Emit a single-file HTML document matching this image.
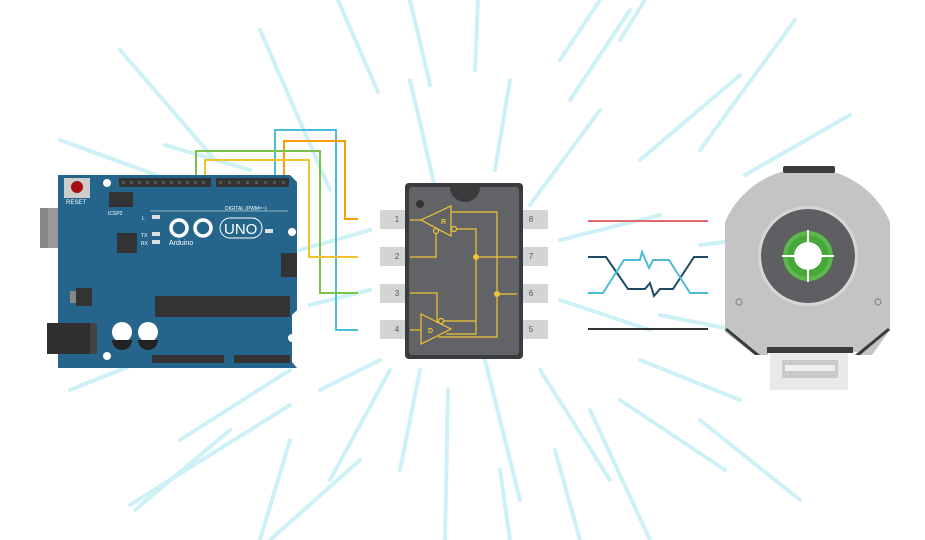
<!DOCTYPE html>
<html><head><meta charset="utf-8"><style>html,body{margin:0;padding:0;background:#fff}svg{display:block}</style></head>
<body>
<svg width="925" height="540" viewBox="0 0 925 540" xmlns="http://www.w3.org/2000/svg" font-family="Liberation Sans, sans-serif">
<g stroke="#cdf1f7" stroke-linecap="round" fill="none" stroke-width="4">
<path d="M338 0 L378 92"/>
<path d="M410 0 L430 85"/>
<path d="M478 0 L475 70"/>
<path d="M560 60 L600 0"/>
<path d="M620 40 L645 0"/>
<path d="M570 100 L630 10"/>
<path d="M700 150 L795 20"/>
<path d="M640 160 L740 75"/>
<path d="M745 175 L850 115"/>
<path d="M120 50 L215 160"/>
<path d="M260 30 L330 190"/>
<path d="M410 80 L438 200"/>
<path d="M510 80 L495 170"/>
<path d="M600 110 L530 205"/>
<path d="M60 140 L170 180"/>
<path d="M165 145 L250 170"/>
<path d="M560 240 L660 215"/>
<path d="M700 245 L740 240"/>
<path d="M560 300 L650 330"/>
<path d="M660 315 L735 330"/>
<path d="M300 250 L370 230"/>
<path d="M310 305 L370 290"/>
<path d="M70 390 L170 350"/>
<path d="M130 505 L290 405"/>
<path d="M180 440 L290 370"/>
<path d="M135 510 L230 430"/>
<path d="M270 540 L360 460"/>
<path d="M320 390 L380 360"/>
<path d="M330 480 L390 370"/>
<path d="M420 370 L400 470"/>
<path d="M448 390 L445 540"/>
<path d="M485 360 L520 500"/>
<path d="M500 470 L510 540"/>
<path d="M540 370 L610 480"/>
<path d="M555 450 L580 540"/>
<path d="M590 410 L650 540"/>
<path d="M620 400 L725 470"/>
<path d="M640 360 L740 400"/>
<path d="M700 420 L800 500"/>
<path d="M290 440 L260 540"/>
</g>
<g fill="none" stroke-width="2">
<path d="M275 178 V130 H336 V330 H358" stroke="#4dbcd6"/>
<path d="M284 178 V141 H345 V219 H358" stroke="#f5a000"/>
<path d="M196 178 V151 H320 V293 H358" stroke="#7cc24a"/>
<path d="M205 178 V160 H309 V257 H358" stroke="#f2c330"/>
</g>
<rect x="40" y="208" width="50" height="40" fill="#9a9a9a"/>
<rect x="40" y="208" width="8" height="40" fill="#888"/>
<path d="M58 175 H290 L297 182 V310 L292 315 V362 L297 368 H58 Z" fill="#25658b"/>
<rect x="47" y="323" width="50" height="31" fill="#2f2f2f"/>
<rect x="90" y="323" width="7" height="31" fill="#444"/>
<rect x="64" y="178" width="26" height="20" fill="#ccc"/>
<circle cx="77" cy="187" r="6" fill="#a80c0c"/>
<text x="66" y="204" font-size="6" fill="#fff">RESET</text>
<circle cx="107" cy="183" r="4" fill="#fff"/>
<circle cx="107" cy="356" r="4" fill="#fff"/>
<circle cx="292" cy="232" r="4" fill="#fff"/>
<circle cx="292" cy="338" r="4" fill="#fff"/>
<rect x="119" y="178" width="92" height="9" fill="#333"/>
<rect x="216" y="178" width="73" height="9" fill="#333"/>
<g fill="#555"><rect x="122" y="181" width="3" height="3"/><rect x="130" y="181" width="3" height="3"/><rect x="138" y="181" width="3" height="3"/><rect x="146" y="181" width="3" height="3"/><rect x="154" y="181" width="3" height="3"/><rect x="162" y="181" width="3" height="3"/><rect x="170" y="181" width="3" height="3"/><rect x="178" y="181" width="3" height="3"/><rect x="186" y="181" width="3" height="3"/><rect x="194" y="181" width="3" height="3"/><rect x="202" y="181" width="3" height="3"/><rect x="219" y="181" width="3" height="3"/><rect x="228" y="181" width="3" height="3"/><rect x="237" y="181" width="3" height="3"/><rect x="246" y="181" width="3" height="3"/><rect x="255" y="181" width="3" height="3"/><rect x="264" y="181" width="3" height="3"/><rect x="273" y="181" width="3" height="3"/><rect x="282" y="181" width="3" height="3"/></g>
<rect x="109" y="192" width="24" height="15" fill="#333"/>
<text x="108" y="215" font-size="5" fill="#fff">ICSP2</text>
<text x="225" y="210" font-size="5" fill="#fff">DIGITAL (PWM=~)</text>
<line x1="150" y1="211" x2="288" y2="211" stroke="#fff" stroke-width="0.6"/>
<rect x="117" y="233" width="20" height="20" fill="#333"/>
<rect x="152" y="215" width="8" height="4" fill="#ddd"/>
<rect x="152" y="232" width="8" height="4" fill="#ddd"/>
<rect x="152" y="240" width="8" height="4" fill="#ddd"/>
<text x="142" y="220" font-size="5" fill="#fff">L</text>
<text x="141" y="237" font-size="5" fill="#fff">TX</text>
<text x="141" y="245" font-size="5" fill="#fff">RX</text>
<circle cx="179" cy="228" r="8" fill="none" stroke="#fff" stroke-width="3.5"/>
<circle cx="203" cy="228" r="8" fill="none" stroke="#fff" stroke-width="3.5"/>
<text x="169" y="245" font-size="7" fill="#fff">Arduino</text>
<rect x="220" y="218" width="42" height="20" rx="10" fill="none" stroke="#fff"/>
<text x="224" y="234" font-size="15" fill="#fff">UNO</text>
<rect x="265" y="229" width="8" height="4" fill="#ddd"/>
<rect x="281" y="253" width="16" height="24" fill="#333"/>
<rect x="155" y="296" width="135" height="21" fill="#333"/>
<rect x="70" y="291" width="12" height="12" fill="#888"/>
<rect x="76" y="288" width="16" height="18" fill="#333"/>
<circle cx="122" cy="332" r="10" fill="#fff"/>
<circle cx="148" cy="332" r="10" fill="#fff"/>
<path d="M112 340 H132 A10 10 0 0 1 112 340Z" fill="#222"/>
<path d="M138 340 H158 A10 10 0 0 1 138 340Z" fill="#222"/>
<rect x="152" y="355" width="72" height="8" fill="#333"/>
<rect x="234" y="355" width="56" height="8" fill="#333"/>
<g fill="#d4d4d4">
<rect x="380" y="210" width="26" height="19"/><rect x="380" y="247" width="26" height="19"/>
<rect x="380" y="284" width="26" height="19"/><rect x="380" y="320" width="26" height="19"/>
<rect x="522" y="210" width="26" height="19"/><rect x="522" y="247" width="26" height="19"/>
<rect x="522" y="284" width="26" height="19"/><rect x="522" y="320" width="26" height="19"/>
</g>
<g font-size="8" fill="#555" text-anchor="middle">
<text x="397" y="222">1</text><text x="397" y="259">2</text><text x="397" y="296">3</text><text x="397" y="332">4</text>
<text x="531" y="222">8</text><text x="531" y="259">7</text><text x="531" y="296">6</text><text x="531" y="332">5</text>
</g>
<rect x="405" y="183" width="118" height="176" rx="4" fill="#3a3b3d"/>
<rect x="409" y="187" width="110" height="168" rx="3" fill="#616366"/>
<path d="M450 187 A12 12 0 0 0 480 187 Z" fill="#3a3b3d"/>
<circle cx="420" cy="204" r="4" fill="#333"/>
<g fill="none" stroke="#f0c435" stroke-width="1.2">
<path d="M410 220 H421"/><path d="M421 220 L451 206 V236 Z"/>
<path d="M451 212 H497 V294 H517"/><circle cx="454" cy="229" r="2.5"/><path d="M456 229 H476 V334 H446"/>
<path d="M476 257 H517"/><circle cx="436" cy="231" r="2.5"/><path d="M436 233.5 V257 H410"/>
<path d="M410 293 H437 V323"/><circle cx="441" cy="321" r="2.5"/><path d="M443 321 H476"/>
<path d="M421 314 L451 329 L421 344 Z"/><path d="M410 330 H421"/>
<path d="M438 337 H497 V294"/>
</g>
<circle cx="476" cy="257" r="3" fill="#f0c435"/><circle cx="497" cy="294" r="3" fill="#f0c435"/>
<text x="441" y="224" font-size="7" fill="#f0c435" font-weight="bold">R</text>
<text x="428" y="333" font-size="7" fill="#f0c435" font-weight="bold">D</text>
<line x1="588" y1="221" x2="708" y2="221" stroke="#e06870" stroke-width="2"/>
<line x1="588" y1="329" x2="708" y2="329" stroke="#333" stroke-width="2"/>
<path d="M588 257 H606 L628 289 H645 L650 283 L654 296 L660 289 L673 289 L694 257 H708" fill="none" stroke="#1f4a66" stroke-width="2"/>
<path d="M588 293 H603 L624 260 H640 L642 252 L649 268 L653 260 H669 L690 293 H708" fill="none" stroke="#4dbcd6" stroke-width="2"/>
<path d="M725 222 A90 90 0 0 1 890 222 V330 L872 355 H860 V352 H768 V355 H755 L725 332 Z" fill="#c4c4c4"/>
<path d="M725 330 L755 355 H760 L727 328Z M890 330 L860 355 H855 L888 328Z" fill="#3a3b3d"/>
<rect x="783" y="166" width="52" height="7" rx="2" fill="#3a3b3d"/>
<rect x="767" y="347" width="86" height="6" fill="#3a3b3d"/>
<rect x="770" y="353" width="78" height="37" fill="#e9e9e9"/>
<rect x="782" y="360" width="56" height="18" fill="#c9c9c9"/>
<rect x="785" y="365" width="50" height="6" fill="#eee"/>
<circle cx="808" cy="256" r="50" fill="#d7d7d7"/>
<circle cx="808" cy="256" r="47" fill="#5d5f63"/>
<circle cx="808" cy="256" r="25" fill="#5bb84a"/>
<circle cx="808" cy="256" r="21" fill="#49a83a"/>
<circle cx="808" cy="256" r="14" fill="#fff"/>
<path d="M808 230 V243 M808 269 V282 M782 256 H795 M821 256 H834" stroke="#fff" stroke-width="2"/>
<circle cx="739" cy="302" r="3" fill="none" stroke="#888" stroke-width="1.2"/>
<circle cx="878" cy="302" r="3" fill="none" stroke="#888" stroke-width="1.2"/>
</svg>
</body></html>
